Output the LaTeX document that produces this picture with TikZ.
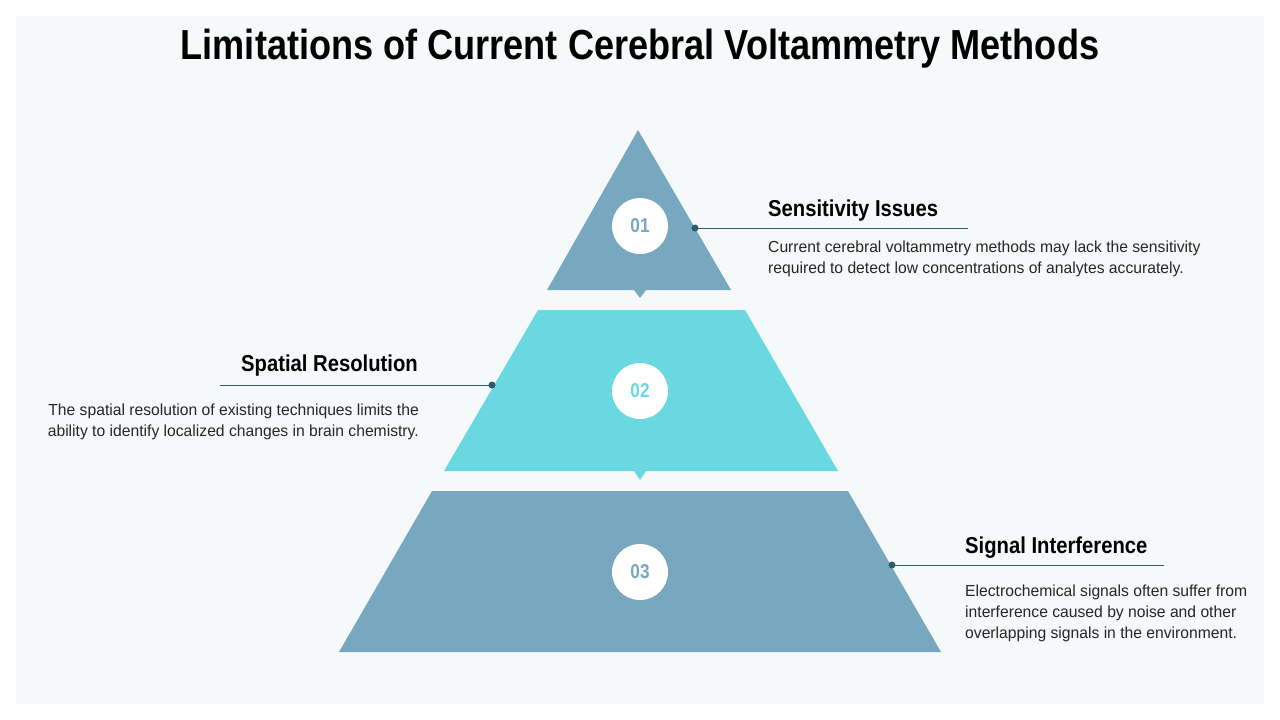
\documentclass[tikz,border=0pt]{standalone}
\usepackage{fontspec}
\setmainfont{Liberation Sans}
\newfontfamily\condfont{Liberation Sans}[FakeStretch=0.86]
\newfontfamily\headfont{Liberation Sans}[FakeStretch=0.88]
\newfontfamily\bodyfont{Liberation Sans}[FakeStretch=0.98]
\definecolor{panel}{HTML}{F5F9FA}
\definecolor{steel}{HTML}{78A8C0}
\definecolor{aqua}{HTML}{69D8E0}
\definecolor{dotc}{HTML}{2F5A70}
\begin{document}
\begin{tikzpicture}[x=1pt,y=-1pt,
  heading/.style={font=\headfont\bfseries\fontsize{23}{27}\selectfont, text=black, inner sep=0pt},
  body/.style={font=\bodyfont\fontsize{16}{20.7}\selectfont, text=black!85, inner sep=0pt},
  numcirc/.style={circle, fill=white, minimum size=56pt, inner sep=0pt, font=\condfont\bfseries\fontsize{20}{24}\selectfont},
  leader/.style={draw=dotc, line width=0.9pt},
  dotnode/.style={circle, fill=dotc, minimum size=7pt, inner sep=0pt}]
\useasboundingbox (0,0) rectangle (1280,720);
\fill[white] (0,0) rectangle (1280,720);
\fill[panel] (16,16) rectangle (1264,704);
\node[font=\condfont\bfseries\fontsize{42}{48}\selectfont, inner sep=0pt] (title) at (640,49) {Limitations of Current Cerebral Voltammetry Methods};
% pyramid
\fill[steel] (638,130) -- (731,290) -- (547,290) -- cycle;
\fill[steel] (634,290) -- (646,290) -- (640,298) -- cycle;
\fill[aqua] (538,310) -- (745,310) -- (838,471) -- (444,471) -- cycle;
\fill[aqua] (634,471) -- (646,471) -- (640,480) -- cycle;
\fill[steel] (432,491) -- (848,491) -- (941,652) -- (339,652) -- cycle;
\node[numcirc, text=steel] (n1) at (640,226) {01};
\node[numcirc, text=aqua] (n2) at (640,391) {02};
\node[numcirc, text=steel] (n3) at (640,572) {03};
% connectors
\node[dotnode] (d1) at (695,228) {};
\coordinate (e1) at (968,228);
\draw[leader] (d1.center) -- (e1);
\node[dotnode] (d2) at (492,385) {};
\coordinate (e2) at (220,385);
\draw[leader] (d2.center) -- (e2);
\node[dotnode] (d3) at (892,565) {};
\coordinate (e3) at (1164,565);
\draw[leader] (d3.center) -- (e3);
% texts
\node[heading, anchor=base west] (h1) at (768,216) {Sensitivity Issues};
\node[body, anchor=north west, align=left] (b1) at (768,241) {Current cerebral voltammetry methods may lack the sensitivity\\required to detect low concentrations of analytes accurately.};
\node[heading, anchor=base east] (h2) at (418,371) {Spatial Resolution};
\node[body, anchor=north east, align=right] (b2) at (419,404) {The spatial resolution of existing techniques limits the\\ability to identify localized changes in brain chemistry.};
\node[heading, anchor=base west] (h3) at (965,553) {Signal Interference};
\node[body, anchor=north west, align=left] (b3) at (965,585) {Electrochemical signals often suffer from\\interference caused by noise and other\\overlapping signals in the environment.};
\end{tikzpicture}
\end{document}
